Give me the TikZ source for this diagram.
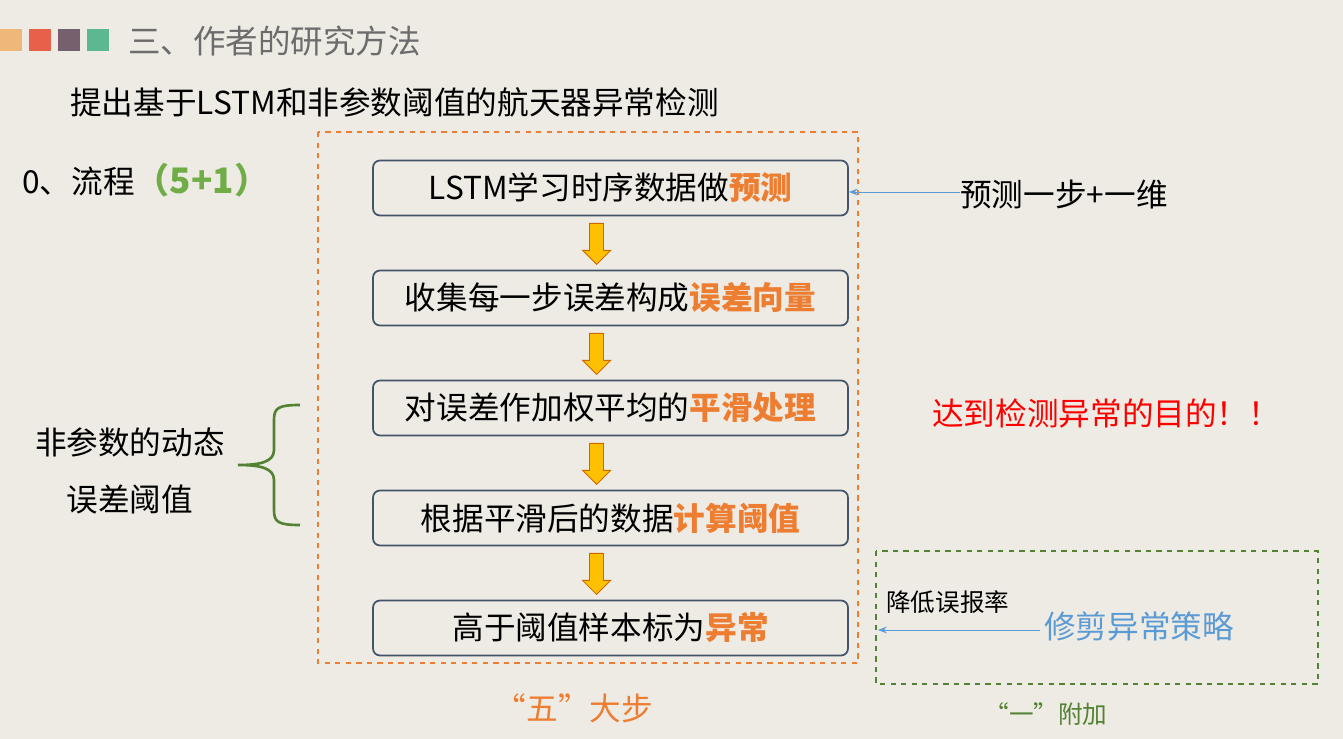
\documentclass[tikz,border=0pt]{standalone}
\usepackage{fontspec}
\setmainfont{Noto Sans CJK SC}
\usetikzlibrary{arrows.meta}
\definecolor{bg}{HTML}{EDEBE3}
\definecolor{hl}{HTML}{ED7D31}
\definecolor{gr}{HTML}{70AD47}
\definecolor{dg}{HTML}{548235}
\definecolor{bl}{HTML}{5B9BD5}
\definecolor{bx}{HTML}{44546A}
\definecolor{sq1}{HTML}{F0B878}
\definecolor{sq2}{HTML}{E8604A}
\definecolor{sq3}{HTML}{76606E}
\definecolor{sq4}{HTML}{5CB890}
\definecolor{yl}{HTML}{FFC000}
\tikzset{
 stepbox/.style={draw=bx,line width=1pt,rounded corners=4pt,minimum width=475*0.02cm,minimum height=55*0.02cm,font=\fontsize{18}{20}\selectfont},
 yarrow/.style={fill=yl,draw=orange!80!black,line width=0.5pt},
 txt/.style={font=\fontsize{18}{20}\selectfont,inner sep=0pt},
}
\newcommand{\hlt}[1]{\textcolor{hl}{\bfseries #1}}
\begin{document}
\begin{tikzpicture}[x=0.02cm,y=-0.02cm]
\fill[bg] (0,0) rectangle (1343,739);
\useasboundingbox (0,0) rectangle (1343,739);
\fill[sq1] (0,29) rectangle (22,51);
\fill[sq2] (29,29) rectangle (51,51);
\fill[sq3] (58,29) rectangle (80,51);
\fill[sq4] (87,29) rectangle (109,51);
\node[anchor=west,inner sep=0pt,font=\fontsize{18.5}{20}\selectfont,text=gray!85!black] (title) at (128,41) {三、作者的研究方法};
\node[anchor=west,txt] (sub) at (70,102) {提出基于LSTM和非参数阈值的航天器异常检测};
\node[anchor=west,txt] (flow) at (22,180) {0、流程\textcolor{gr}{\bfseries\fontsize{20}{22}\selectfont（5+1）}};
\draw[hl,dashed,line width=1pt] (318,132) rectangle (858,663);
\draw[dg,dashed,line width=1pt] (876,551) rectangle (1318,684);
\node[stepbox] (s1) at (610.5,188) {LSTM学习时序数据做\hlt{预测}};
\node[stepbox] (s2) at (610.5,298) {收集每一步误差构成\hlt{误差向量}};
\node[stepbox] (s3) at (610.5,408) {对误差作加权平均的\hlt{平滑处理}};
\node[stepbox] (s4) at (610.5,518) {根据平滑后的数据\hlt{计算阈值}};
\node[stepbox] (s5) at (610.5,628) {高于阈值样本标为\hlt{异常}};
\foreach \a/\b in {s1/s2,s2/s3,s3/s4,s4/s5}{
 \path (\a.south) ++(-14,7) coordinate (t);
 \draw[yarrow] (t) ++(-7,0) -- ++(14,0) -- ++(0,27) -- ++(7,0) -- ++(-14,14) -- ++(-14,-14) -- ++(7,0) -- cycle;
}
\node[anchor=west,txt] (p1) at (960,195) {预测一步+一维};
\coordinate (a1) at (960,192);
\draw[bl,-{Stealth[length=5pt]}] (a1) -- (s1.east|-a1);
\node[anchor=west,txt,text=red] (goal) at (932,413) {达到检测异常的目的！！};
\node[anchor=west,txt,text=bl] (cut) at (1044,626) {修剪异常策略};
\node[anchor=west,inner sep=0pt,font=\fontsize{14}{16}\selectfont] (low) at (886,602) {降低误报率};
\coordinate (a2) at (1040,630);
\coordinate (a2e) at (878,630);
\draw[bl,-{Stealth[length=5pt]}] (a2) -- (a2e);
\node[txt] (np1) at (130,442) {非参数的动态};
\node[txt] (np2) at (130,500) {误差阈值};
\draw[dg,line width=1.5pt] (300,405) .. controls (278,405) and (274,408) .. (274,420) -- (274,450) .. controls (274,462) and (260,465) .. (238,465) .. controls (260,465) and (274,468) .. (274,480) -- (274,510) .. controls (274,522) and (278,525) .. (300,525);
\node[txt,text=hl] (five) at (574,708) {“五”大步};
\node[inner sep=0pt,font=\fontsize{14}{16}\selectfont,text=dg] (one) at (1046,714) {“一”附加};
\end{tikzpicture}
\end{document}
